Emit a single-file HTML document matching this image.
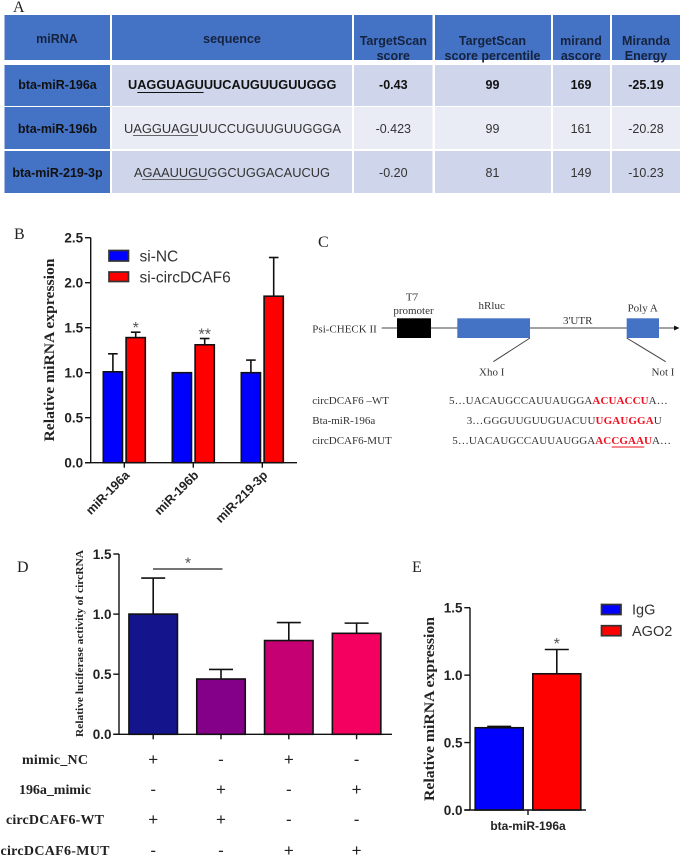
<!DOCTYPE html>
<html lang="en">
<head>
<meta charset="utf-8">
<title>miRNA figure</title>
<style>
html,body{margin:0;padding:0;background:#fff;width:685px;height:859px;overflow:hidden}
svg{display:block;filter:blur(0.35px)}
.sf{font-family:"Liberation Serif",serif}
.ss{font-family:"Liberation Sans",sans-serif}
.th{font:bold 12.5px "Liberation Sans",sans-serif;fill:#15233f;text-anchor:middle}
.tb{font:bold 12.5px "Liberation Sans",sans-serif;fill:#111;text-anchor:middle}
.td{font:12.5px "Liberation Sans",sans-serif;fill:#333;text-anchor:middle}
.panel{font:16px "Liberation Serif",serif;fill:#222}
.c{font:11px "Liberation Serif",serif;fill:#333}
.m{text-anchor:middle}
.red{fill:#f01020;font-weight:bold}
.rowlab{font:bold 14px "Liberation Serif",serif;fill:#222;text-anchor:middle}
</style>
</head>
<body>
<svg id="fig" width="685" height="859" viewBox="0 0 685 859" xmlns="http://www.w3.org/2000/svg">
<rect width="685" height="859" fill="#fff"/>

<g>
<text class="panel" x="13" y="12">A</text>
<g fill="#4472c4">
<rect x="4.5" y="15" width="105.5" height="45"/><rect x="112" y="15" width="240" height="45"/><rect x="354" y="15" width="78.5" height="45"/><rect x="435" y="15" width="116" height="45"/><rect x="553" y="15" width="57" height="45"/><rect x="612" y="15" width="68" height="45"/>
</g>
<g fill="#cfd5ea">
<rect x="4.5" y="65" width="105.5" height="41" fill="#4472c4"/><rect x="112" y="65" width="240" height="41"/><rect x="354" y="65" width="78.5" height="41"/><rect x="435" y="65" width="116" height="41"/><rect x="553" y="65" width="57" height="41"/><rect x="612" y="65" width="68" height="41"/>
</g>
<g fill="#e9ebf5">
<rect x="4.5" y="107" width="105.5" height="42" fill="#4472c4"/><rect x="112" y="107" width="240" height="42"/><rect x="354" y="107" width="78.5" height="42"/><rect x="435" y="107" width="116" height="42"/><rect x="553" y="107" width="57" height="42"/><rect x="612" y="107" width="68" height="42"/>
</g>
<g fill="#cfd5ea">
<rect x="4.5" y="151" width="105.5" height="42" fill="#4472c4"/><rect x="112" y="151" width="240" height="42"/><rect x="354" y="151" width="78.5" height="42"/><rect x="435" y="151" width="116" height="42"/><rect x="553" y="151" width="57" height="42"/><rect x="612" y="151" width="68" height="42"/>
</g>
<text class="th" x="57" y="43">miRNA</text>
<text class="th" x="232" y="43">sequence</text>
<text class="th" x="393.3" y="45">TargetScan<tspan x="393.3" y="60">score</tspan></text>
<text class="th" x="492.5" y="45">TargetScan<tspan x="492.5" y="60">score percentile</tspan></text>
<text class="th" x="581" y="45">mirand<tspan x="581" y="60">ascore</tspan></text>
<text class="th" x="646" y="45">Miranda<tspan x="646" y="60">Energy</tspan></text>

<text class="tb" x="57.5" y="89">bta-miR-196a</text>
<text class="tb" x="232.2" y="89" textLength="208.4" lengthAdjust="spacingAndGlyphs">UAGGUAGUUUCAUGUUGUUGGG</text>
<line x1="137.3" x2="203.6" y1="92.5" y2="92.5" stroke="#111" stroke-width="1"/>
<text class="tb" x="393.3" y="89">-0.43</text>
<text class="tb" x="492.5" y="89">99</text>
<text class="tb" x="581" y="89">169</text>
<text class="tb" x="646" y="89">-25.19</text>

<text class="tb" x="57.5" y="133">bta-miR-196b</text>
<text class="td" x="232.5" y="133" textLength="217" lengthAdjust="spacingAndGlyphs">UAGGUAGUUUCCUGUUGUUGGGA</text>
<line x1="133" x2="198" y1="135.5" y2="135.5" stroke="#666" stroke-width="1"/>
<text class="td" x="393.3" y="133">-0.423</text>
<text class="td" x="492.5" y="133">99</text>
<text class="td" x="581" y="133">161</text>
<text class="td" x="646" y="133">-20.28</text>

<text class="tb" x="57.5" y="177">bta-miR-219-3p</text>
<text class="td" x="232" y="177" textLength="196" lengthAdjust="spacingAndGlyphs">AGAAUUGUGGCUGGACAUCUG</text>
<line x1="142" x2="207.5" y1="179.5" y2="179.5" stroke="#666" stroke-width="1"/>
<text class="td" x="393.3" y="177">-0.20</text>
<text class="td" x="492.5" y="177">81</text>
<text class="td" x="581" y="177">149</text>
<text class="td" x="646" y="177">-10.23</text>
</g>

<g id="panel-b">
<text class="panel" x="14" y="239">B</text>
<text class="sf" transform="translate(54,350) rotate(-90)" text-anchor="middle" font-size="14.5" font-weight="bold" fill="#222" textLength="183" lengthAdjust="spacingAndGlyphs">Relative miRNA expression</text>
</g>

<g>
<text class="panel" x="318" y="247">C</text>
<line x1="381.7" x2="675" y1="328" y2="328" stroke="#444" stroke-width="1"/>
<polygon points="674,325.5 679.5,328 674,330.5" fill="#111"/>
<rect x="397" y="318.3" width="34" height="19.7" fill="#000"/>
<rect x="457.3" y="318.3" width="72.7" height="19.7" fill="#4472c4"/>
<rect x="626.7" y="318.3" width="32.3" height="19.7" fill="#4472c4"/>
<line x1="530" y1="338" x2="493.3" y2="361.7" stroke="#444"/>
<line x1="626.7" y1="338" x2="665.7" y2="361.7" stroke="#444"/>
<text class="c m" x="412" y="300.7">T7</text>
<text class="c m" x="413.5" y="314">promoter</text>
<text class="c m" x="491.7" y="309">hRluc</text>
<text class="c m" x="577.7" y="324">3'UTR</text>
<text class="c m" x="642.7" y="311.7">Poly A</text>
<text class="c" x="312.3" y="332.3">Psi-CHECK  II</text>
<text class="c m" x="491.7" y="375.7">Xho I</text>
<text class="c m" x="663" y="375.7">Not I</text>
<text class="c" x="312.3" y="404">circDCAF6  –WT</text>
<text class="c" x="312.3" y="424">Bta-miR-196a</text>
<text class="c" x="312.3" y="444">circDCAF6-MUT</text>
<text class="c" x="449" y="404" textLength="218.7">5…UACAUGCCAUUAUGGA<tspan class="red">ACUACCU</tspan>A…</text>
<text class="c" x="466.7" y="424" textLength="195">3…GGGUUGUUGUACUU<tspan class="red">UGAUGGA</tspan>U</text>
<text class="c" x="452.3" y="444" textLength="218.7">5…UACAUGCCAUUAUGGA<tspan class="red">ACCGAAU</tspan>A…</text>
<line x1="611.7" x2="644.3" y1="447" y2="447" stroke="#f01020" stroke-width="1"/>
</g>

<g id="panel-d">
<text class="panel" x="17" y="572">D</text>
<text class="sf" transform="translate(83,643.5) rotate(-90)" text-anchor="middle" font-size="10.5" font-weight="bold" fill="#222" textLength="187" lengthAdjust="spacingAndGlyphs">Relative luciferase activity of circRNA</text>
<line x1="153" x2="222.5" y1="569" y2="569" stroke="#222" stroke-width="1.3"/>
<text class="ss m" x="188" y="568.5" font-size="16" fill="#555">*</text>
</g>

<g id="panel-e">
<text class="panel" x="412" y="572">E</text>
<text class="sf" transform="translate(434,709) rotate(-90)" text-anchor="middle" font-size="14.5" font-weight="bold" fill="#222" textLength="184" lengthAdjust="spacingAndGlyphs">Relative miRNA expression</text>
</g>
</svg>

<script>
// Panel B data
const bCategories = ['miR-196a', 'miR-196b', 'miR-219-3p'];
const bSeriesNC = [1.01, 1.0, 1.0];
const bSeriesCirc = [1.39, 1.31, 1.85];
const bErrTopNC = [1.21, 1.0, 1.14];
const bErrTopCirc = [1.45, 1.38, 2.28];
const bStars = ['*', '**', ''];
const bTicks = ['0.0', '0.5', '1.0', '1.5', '2.0', '2.5'];
const bLegend = ['si-NC', 'si-circDCAF6'];

// Panel D data
const dValues = [1.0, 0.46, 0.78, 0.84];
const dErrTop = [1.30, 0.54, 0.93, 0.925];
const dTicks = ['0.0', '0.5', '1.0', '1.5'];
const dColors = ['#14148c', '#850088', '#c40072', '#f40060'];
const dRowLabels = ['mimic_NC', '196a_mimic', 'circDCAF6-WT', 'circDCAF6-MUT'];
const dMimicNC = ['+', '-', '+', '-'];
const dMimic196a = ['-', '+', '-', '+'];
const dWT = ['+', '+', '-', '-'];
const dMUT = ['-', '-', '+', '+'];

// Panel E data
const eCategory = 'bta-miR-196a';
const eValues = [0.61, 1.01];
const eErrTop = [0.62, 1.19];
const eStars = ['', '*'];
const eTicks = ['0.0', '0.5', '1.0', '1.5'];
const eLegend = ['IgG', 'AGO2'];

const NS = 'http://www.w3.org/2000/svg';
const STROKE = 1.6;
function el(parent, tag, attrs, text) {
  const n = document.createElementNS(NS, tag);
  for (const k in attrs) n.setAttribute(k, attrs[k]);
  if (text !== undefined) n.textContent = text;
  parent.appendChild(n);
  return n;
}
function linear(d1, r0, r1) { return v => r0 + (r1 - r0) * v / d1; }

function drawYAxis(g, scale, ticks, x, xEnd, fontSize, sw) {
  const axis = el(g, 'line', {x1: x, x2: x, y1: scale(+ticks[ticks.length - 1]), y2: scale(0), stroke: '#111', 'stroke-width': sw});
  
  
  const base = el(g, 'line', {x1: x - 5.7, x2: xEnd, y1: scale(0), y2: scale(0), stroke: '#111', 'stroke-width': sw});
  
  
  ticks.forEach(t => {
    const m = el(g, 'line', {x1: x - 5.7, x2: x, y1: scale(+t), y2: scale(+t), stroke: '#111', 'stroke-width': sw});
    
    
    const l = el(g, 'text', {x: x - 7.5, y: scale(+t) + fontSize * 0.36, 'text-anchor': 'end', 'font-family': '"Liberation Sans",sans-serif', 'font-weight': 'bold', 'font-size': fontSize, fill: '#222'}, t);
    
    
  });
}
function drawBar(g, cx, width, value, errTop, scale, fill, capHalf, sw) {
  if (errTop > value) {
    const s = el(g, 'line', {x1: cx, x2: cx, y1: scale(errTop), y2: scale(value), stroke: '#111', 'stroke-width': sw});
    
    
    const c = el(g, 'line', {x1: cx - capHalf, x2: cx + capHalf, y1: scale(errTop), y2: scale(errTop), stroke: '#111', 'stroke-width': sw});
    
    
  }
  const b = el(g, 'rect', {x: cx - width / 2, y: scale(value), width: width, height: scale(0) - scale(value), fill: fill, stroke: '#111', 'stroke-width': sw});
  
  
}
function drawSwatch(g, x, y, w, h, fill, label, labelX, size) {
  const r = el(g, 'rect', {x: x, y: y, width: w, height: h, fill: fill, stroke: '#333', 'stroke-width': 1.7});
  
  
  const t = el(g, 'text', {x: labelX, y: y + h / 2 + size * 0.36, 'font-family': '"Liberation Sans",sans-serif', 'font-size': size, fill: '#333'}, label);
  
  
}

// ---- Panel B ----
(function () {
  const g = document.getElementById('panel-b');
  const y = linear(2.5, 462.7, 237.7);
  const left = 89.8, step = 69;
  const cx = i => left + (i + 0.5) * step;
  const off = 11.4, w = 19.2;
  drawYAxis(g, y, bTicks, 90.7, 297, 13.5, 1.4);
  bCategories.forEach((c, i) => {
    drawBar(g, cx(i) - off, w, bSeriesNC[i], bErrTopNC[i], y, '#0000ff', 4.8, STROKE);
    drawBar(g, cx(i) + off, w, bSeriesCirc[i], bErrTopCirc[i], y, '#ff0000', 4.8, STROKE);
    const tm = el(g, 'line', {x1: cx(i), x2: cx(i), y1: y(0), y2: y(0) + 5, stroke: '#111', 'stroke-width': 1.4});
    
    
    const ex = cx(i) + 6, ey = 476;
    const lab = el(g, 'text', {x: ex, y: ey, 'text-anchor': 'end', transform: 'rotate(-45 ' + ex + ' ' + ey + ')', 'font-family': '"Liberation Sans",sans-serif', 'font-weight': 'bold', 'font-size': 12.5, fill: '#222'}, c);
    
    
    if (bStars[i]) {
      const st = el(g, 'text', {x: cx(i) + off, y: y(bErrTopCirc[i]) + 1, 'text-anchor': 'middle', 'font-family': '"Liberation Sans",sans-serif', 'font-size': 16, fill: '#555'}, bStars[i]);
      
      
    }
  });
  drawSwatch(g, 109, 250.5, 19.5, 10.5, '#0000ff', bLegend[0], 139.5, 15.5);
  drawSwatch(g, 109, 272, 19.5, 9.5, '#ff0000', bLegend[1], 139.5, 15.5);
})();

// ---- Panel D ----
(function () {
  const g = document.getElementById('panel-d');
  const y = linear(1.5, 734.3, 554);
  const left = 119.3, step = 67.8;
  const cx = i => left + (i + 0.5) * step;
  drawYAxis(g, y, dTicks, 119, 392, 13.5, 1.4);
  dValues.forEach((v, i) => {
    drawBar(g, cx(i), 48.5, v, dErrTop[i], y, dColors[i], 12, STROKE);
    const tm = el(g, 'line', {x1: cx(i), x2: cx(i), y1: y(0), y2: y(0) + 5, stroke: '#111', 'stroke-width': 1.4});
    
    
  });
  const rows = [dMimicNC, dMimic196a, dWT, dMUT];
  const rowY = [759, 789, 819, 850];
  const rowW = [66, 72, 98, 109];
  dRowLabels.forEach((lab, r) => {
    const t = el(g, 'text', {x: 55, y: rowY[r] + 5, 'class': 'rowlab', textLength: rowW[r]}, lab);
    
    
    rows[r].forEach((sym, i) => {
      const s = el(g, 'text', {x: cx(i), y: rowY[r] + 6, 'text-anchor': 'middle', 'font-family': '"Liberation Sans",sans-serif', 'font-size': 17, fill: '#222'}, sym);
      
      
    });
  });
})();

// ---- Panel E ----
(function () {
  const g = document.getElementById('panel-e');
  const y = linear(1.5, 810, 607.7);
  const center = 528;
  const off = 28.8, w = 48;
  const colors = ['#0000ff', '#ff0000'];
  drawYAxis(g, y, eTicks, 470, 586, 13.5, 1.4);
  eValues.forEach((v, i) => {
    const x = center + (i === 0 ? -off : off);
    drawBar(g, x, w, v, eErrTop[i], y, colors[i], 12, STROKE);
    if (eStars[i]) {
      const st = el(g, 'text', {x: x, y: y(eErrTop[i]) - 0.5, 'text-anchor': 'middle', 'font-family': '"Liberation Sans",sans-serif', 'font-size': 16, fill: '#555'}, eStars[i]);
      
      
    }
  });
  const tm = el(g, 'line', {x1: center, x2: center, y1: y(0), y2: y(0) + 5, stroke: '#111', 'stroke-width': 1.4});
  
  
  const lab = el(g, 'text', {x: center, y: 830, 'text-anchor': 'middle', 'font-family': '"Liberation Sans",sans-serif', 'font-weight': 'bold', 'font-size': 12, fill: '#222'}, eCategory);
  
  
  drawSwatch(g, 601.5, 604.5, 19.5, 10, '#0000ff', eLegend[0], 632, 14.5);
  drawSwatch(g, 601.5, 625.7, 19.5, 10, '#ff0000', eLegend[1], 632, 14.5);
})();
</script>
</body>
</html>
